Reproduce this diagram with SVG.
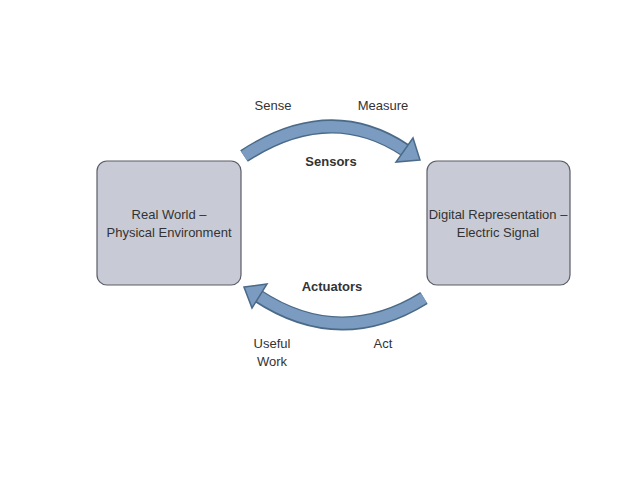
<svg xmlns="http://www.w3.org/2000/svg" width="638" height="478" viewBox="0 0 638 478">
<style>
.box{fill:#c8cbd5;stroke:#5a5d66;stroke-width:1.2}
.t{font-family:"Liberation Sans",Arial,sans-serif;font-size:13px;fill:#333;text-anchor:middle}
.b{font-weight:bold}
.sh{fill:none;stroke:#4a6a88;stroke-width:14}
.si{fill:none;stroke:#7b9cc0;stroke-width:11}
.hd{fill:#7b9cc0;stroke:#4a6a88;stroke-width:1.5}
</style>
<rect width="638" height="478" fill="#fff"/>
<g id="real-world"><rect class="box" x="97" y="161" width="144" height="124" rx="10"/>
<text class="t" x="169" y="219">Real World –</text><text class="t" x="169" y="237">Physical Environment</text></g>
<g id="digital"><rect class="box" x="427" y="161" width="143" height="124" rx="10"/>
<text class="t" x="498" y="219">Digital Representation –</text><text class="t" x="498" y="237">Electric Signal</text></g>
<g id="connectors">
<path class="sh" d="M244 156 Q330 100 405 150"/>
<path class="si" d="M244 156 Q330 100 406 151"/>
<polygon class="hd" points="420,160 396,162 413,138"/>
<path class="sh" d="M424 298 Q340 350 258 296"/>
<path class="si" d="M424 298 Q340 350 257 295"/>
<polygon class="hd" points="244,287 267,284 252,308"/>
</g>
<g id="labels">
<text class="t" x="273" y="110">Sense</text>
<text class="t" x="383" y="110">Measure</text>
<text class="t b" x="331" y="166">Sensors</text>
<text class="t b" x="332" y="291">Actuators</text>
<text class="t" x="272" y="348">Useful</text>
<text class="t" x="272" y="366">Work</text>
<text class="t" x="383" y="348">Act</text>
</g>
</svg>
